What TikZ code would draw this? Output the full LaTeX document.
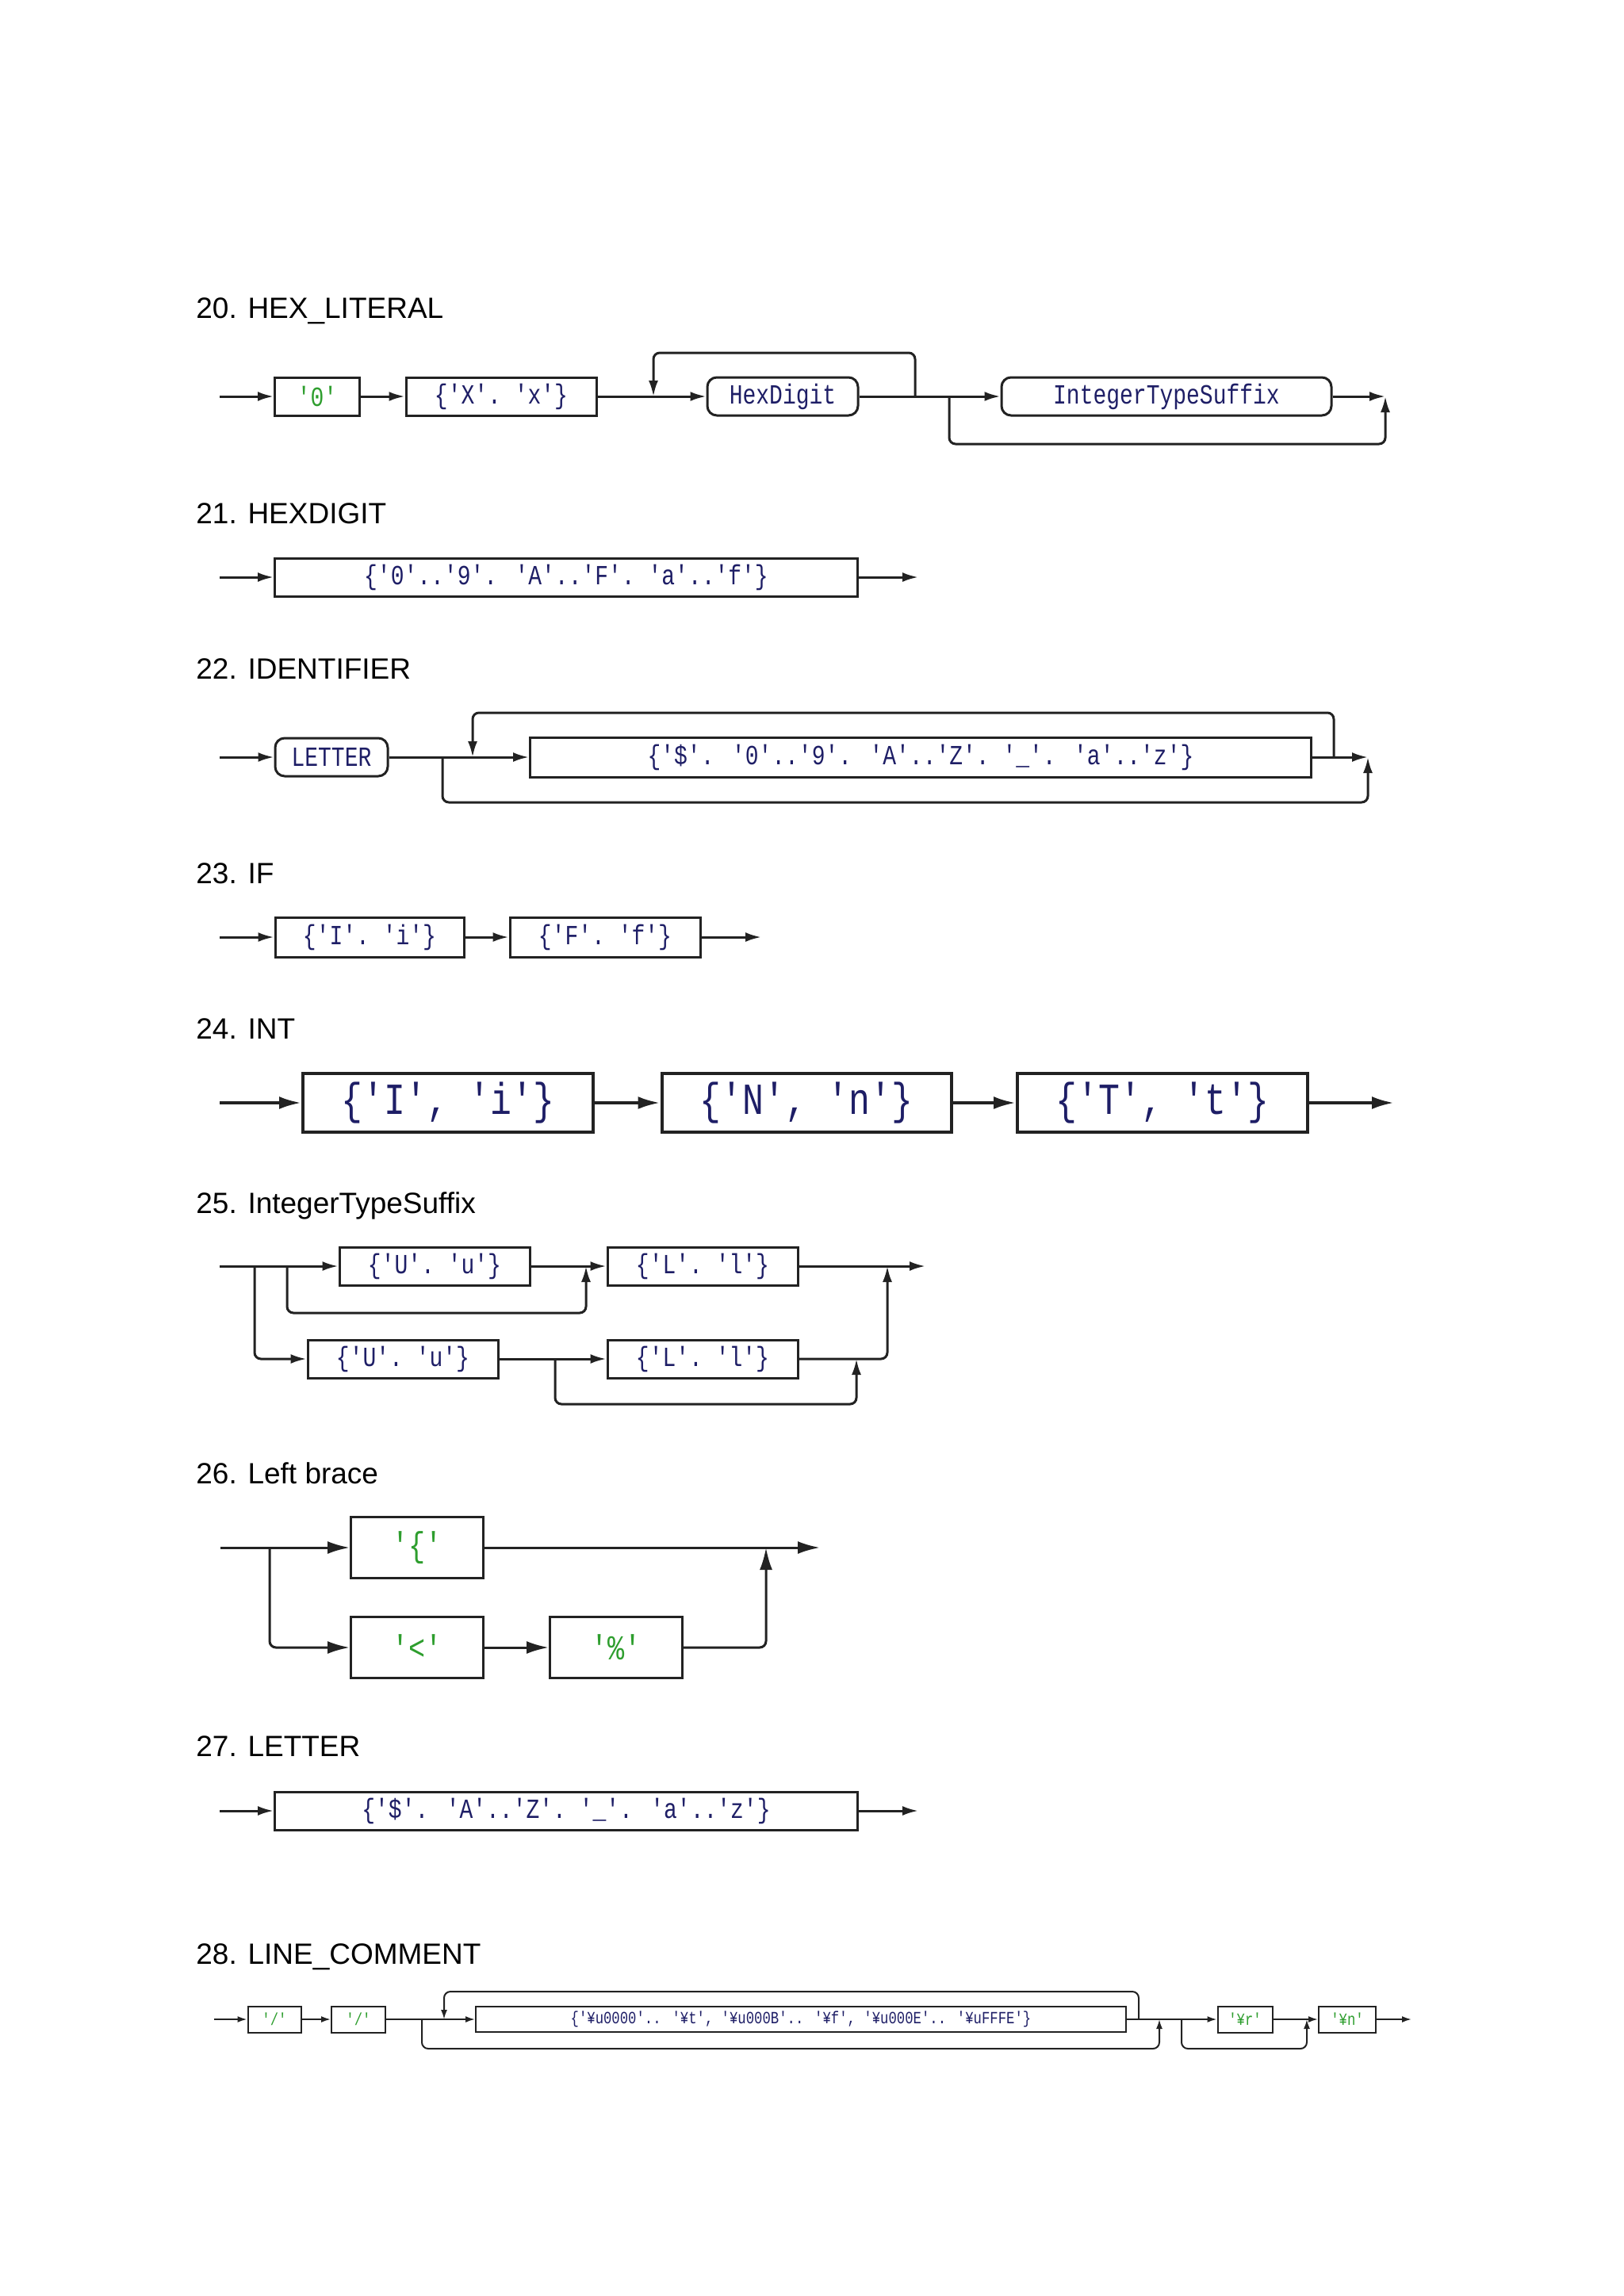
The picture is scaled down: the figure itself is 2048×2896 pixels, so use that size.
\documentclass[tikz,border=0pt]{standalone}
\usepackage{fontspec}
\setmainfont{Liberation Sans}
\newfontfamily\boxmono{Liberation Mono}[Ligatures=TeXOff,FakeStretch=0.8]
\usetikzlibrary{arrows.meta}
\definecolor{navy}{HTML}{1E1E66}
\definecolor{litgreen}{HTML}{2E9E2E}
\definecolor{edge}{HTML}{222222}
\begin{document}
\begin{tikzpicture}[x=0.5pt,y=-0.5pt,
  conn/.style={line width=1.5pt, draw=edge, rounded corners=4pt},
  arr/.style={-{Latex[length=10pt,width=6pt]}},
  bigarr/.style={-{Latex[length=14pt,width=8pt]}},
  smallarr/.style={-{Latex[length=6pt,width=4pt]}},
  bx/.style={draw=edge, line width=1.5pt, fill=white, text=navy, inner sep=0pt},
  rbx/.style={bx, rounded corners=6pt},
  wh/.style 2 args={minimum width=#1*0.5pt, minimum height=#2*0.5pt},
  ttl/.style={anchor=base west, inner sep=0pt, font=\fontsize{18.5pt}{22pt}\selectfont},
  mt/.style={font=\boxmono\fontsize{17.5pt}{19pt}\selectfont},
  mtbig/.style={font=\boxmono\fontsize{28pt}{30pt}\selectfont},
  mtmid/.style={font=\boxmono\fontsize{22pt}{24pt}\selectfont},
  mtsmall/.style={font=\boxmono\fontsize{10.8pt}{12pt}\selectfont},
  lit/.style={text=litgreen}
]
\fill[white] (0,0) rectangle (2048,2896);
\useasboundingbox (0,0) rectangle (2048,2896);

% ---------------- 20. HEX_LITERAL
\node[ttl] (t20) at (247,401) {20. HEX\_LITERAL};
\node[bx,wh={107}{48},mt,lit] (b20a) at (400,500) {'0'};
\node[bx,wh={240}{48},mt] (b20b) at (632,500) {\{'X'. 'x'\}};
\node[rbx,wh={190}{48},mt] (b20c) at (987,500) {HexDigit};
\node[rbx,wh={416}{48},mt] (b20d) at (1471,500) {IntegerTypeSuffix};
\coordinate (s20) at (277,500);
\coordinate (l20l) at (824,500);
\coordinate (l20r) at (1154,500);
\coordinate (j20) at (1197,500);
\coordinate (e20) at (1747,500);
\draw[conn,arr] (s20) -- (b20a);
\draw[conn,arr] (b20a) -- (b20b);
\draw[conn,arr] (b20b) -- (b20c);
\draw[conn,arr] (l20r) |- (824,445) -- (l20l);
\draw[conn,arr] (b20c) -- (b20d);
\draw[conn,arr] (b20d) -- (e20);
\draw[conn,arr] (j20) |- (1747,560) -- (e20);

% ---------------- 21. HEXDIGIT
\node[ttl] (t21) at (247,660) {21. HEXDIGIT};
\node[bx,wh={735}{48},mt] (b21) at (714,728) {\{'0'..'9'. 'A'..'F'. 'a'..'f'\}};
\coordinate (s21) at (277,728);
\coordinate (e21) at (1158,728);
\draw[conn,arr] (s21) -- (b21);
\draw[conn,arr] (b21) -- (e21);

% ---------------- 22. IDENTIFIER
\node[ttl] (t22) at (247,856) {22. IDENTIFIER};
\node[rbx,wh={142}{48},mt] (b22a) at (418,955) {LETTER};
\node[bx,wh={985}{50},mt] (b22b) at (1161,955) {\{'\$'. '0'..'9'. 'A'..'Z'. '\_'. 'a'..'z'\}};
\coordinate (s22) at (277,955);
\coordinate (j22) at (558,955);
\coordinate (l22l) at (596,955);
\coordinate (l22r) at (1682,955);
\coordinate (e22) at (1725,955);
\draw[conn,arr] (s22) -- (b22a);
\draw[conn,arr] (b22a) -- (b22b);
\draw[conn,arr] (l22r) |- (596,899) -- (l22l);
\draw[conn,arr] (b22b) -- (e22);
\draw[conn,arr] (j22) |- (1725,1012) -- (e22);

% ---------------- 23. IF
\node[ttl] (t23) at (247,1114) {23. IF};
\node[bx,wh={238}{50},mt] (b23a) at (466,1182) {\{'I'. 'i'\}};
\node[bx,wh={240}{50},mt] (b23b) at (763,1182) {\{'F'. 'f'\}};
\coordinate (s23) at (277,1182);
\coordinate (e23) at (960,1182);
\draw[conn,arr] (s23) -- (b23a);
\draw[conn,arr] (b23a) -- (b23b);
\draw[conn,arr] (b23b) -- (e23);

% ---------------- 24. INT
\node[ttl] (t24) at (247,1310) {24. INT};
\node[bx,wh={366}{74},mtbig,line width=2pt] (b24a) at (565,1391) {\{'I', 'i'\}};
\node[bx,wh={365}{74},mtbig,line width=2pt] (b24b) at (1017,1391) {\{'N', 'n'\}};
\node[bx,wh={366}{74},mtbig,line width=2pt] (b24c) at (1466,1391) {\{'T', 't'\}};
\coordinate (s24) at (277,1391);
\coordinate (e24) at (1758,1391);
\draw[conn,bigarr,line width=2pt] (s24) -- (b24a);
\draw[conn,bigarr,line width=2pt] (b24a) -- (b24b);
\draw[conn,bigarr,line width=2pt] (b24b) -- (b24c);
\draw[conn,bigarr,line width=2pt] (b24c) -- (e24);

% ---------------- 25. IntegerTypeSuffix
\node[ttl] (t25) at (247,1530) {25. IntegerTypeSuffix};
\node[bx,wh={240}{48},mt] (b25a) at (548,1597) {\{'U'. 'u'\}};
\node[bx,wh={240}{48},mt] (b25b) at (886,1597) {\{'L'. 'l'\}};
\node[bx,wh={240}{48},mt] (b25c) at (508,1714) {\{'U'. 'u'\}};
\node[bx,wh={240}{48},mt] (b25d) at (886,1714) {\{'L'. 'l'\}};
\coordinate (s25) at (277,1597);
\coordinate (j25a) at (321,1597);
\coordinate (j25b) at (362,1597);
\coordinate (m25) at (739,1597);
\coordinate (n25) at (1119,1597);
\coordinate (e25) at (1167,1597);
\coordinate (j25c) at (700,1714);
\coordinate (m25b) at (1080,1714);
\draw[conn,arr] (s25) -- (b25a);
\draw[conn,arr] (j25a) |- (b25c.west);
\draw[conn,arr] (j25b) |- (739,1656) -- (m25);
\draw[conn,arr] (b25a) -- (b25b);
\draw[conn,arr] (b25b) -- (e25);
\draw[conn,arr] (b25c) -- (b25d);
\draw[conn,arr] (j25c) |- (1080,1771) -- (m25b);
\draw[conn,arr] (b25d.east) -| (n25);

% ---------------- 26. Left brace
\node[ttl] (t26) at (247,1871) {26. Left brace};
\node[bx,wh={167}{77},mtmid,lit] (b26a) at (526,1952) {'\{'};
\node[bx,wh={167}{77},mtmid,lit] (b26b) at (526,2078) {'<'};
\node[bx,wh={167}{77},mtmid,lit] (b26c) at (777,2078) {'\%'};
\coordinate (s26) at (278,1952);
\coordinate (j26) at (340,1952);
\coordinate (n26) at (966,1952);
\coordinate (e26) at (1034,1952);
\draw[conn,bigarr] (s26) -- (b26a);
\draw[conn,bigarr] (j26) |- (b26b.west);
\draw[conn,bigarr] (b26a) -- (e26);
\draw[conn,bigarr] (b26b) -- (b26c);
\draw[conn,bigarr] (b26c.east) -| (n26);

% ---------------- 27. LETTER
\node[ttl] (t27) at (247,2215) {27. LETTER};
\node[bx,wh={735}{48},mt] (b27) at (714,2284) {\{'\$'. 'A'..'Z'. '\_'. 'a'..'z'\}};
\coordinate (s27) at (277,2284);
\coordinate (e27) at (1158,2284);
\draw[conn,arr] (s27) -- (b27);
\draw[conn,arr] (b27) -- (e27);

% ---------------- 28. LINE_COMMENT
\node[ttl] (t28) at (247,2477) {28. LINE\_COMMENT};
\begin{scope}[conn/.append style={line width=1pt}, bx/.append style={line width=1pt}]
\node[bx,wh={67}{33},mtsmall,lit] (b28a) at (346,2547) {'/'};
\node[bx,wh={68}{33},mtsmall,lit] (b28b) at (452,2547) {'/'};
\node[bx,wh={820}{32},mtsmall] (b28c) at (1010,2547) {\{'¥u0000'.. '¥t', '¥u000B'.. '¥f', '¥u000E'.. '¥uFFFE'\}};
\node[bx,wh={69}{33},mtsmall,lit] (b28d) at (1570,2547) {'¥r'};
\node[bx,wh={72}{33},mtsmall,lit] (b28e) at (1699,2547) {'¥n'};
\coordinate (s28) at (270,2547);
\coordinate (j28) at (532,2547);
\coordinate (l28l) at (560,2547);
\coordinate (l28r) at (1436,2547);
\coordinate (m28) at (1462,2547);
\coordinate (j28b) at (1490,2547);
\coordinate (m28b) at (1648,2547);
\coordinate (e28) at (1780,2547);
\draw[conn,smallarr] (s28) -- (b28a);
\draw[conn,smallarr] (b28a) -- (b28b);
\draw[conn,smallarr] (b28b) -- (b28c);
\draw[conn,smallarr] (j28) |- (1462,2584) -- (m28);
\draw[conn,smallarr] (l28r) |- (560,2512) -- (l28l);
\draw[conn,smallarr] (b28c) -- (b28d);
\draw[conn,smallarr] (j28b) |- (1648,2584) -- (m28b);
\draw[conn,smallarr] (b28d) -- (b28e);
\draw[conn,smallarr] (b28e) -- (e28);
\end{scope}
\end{tikzpicture}
\end{document}
